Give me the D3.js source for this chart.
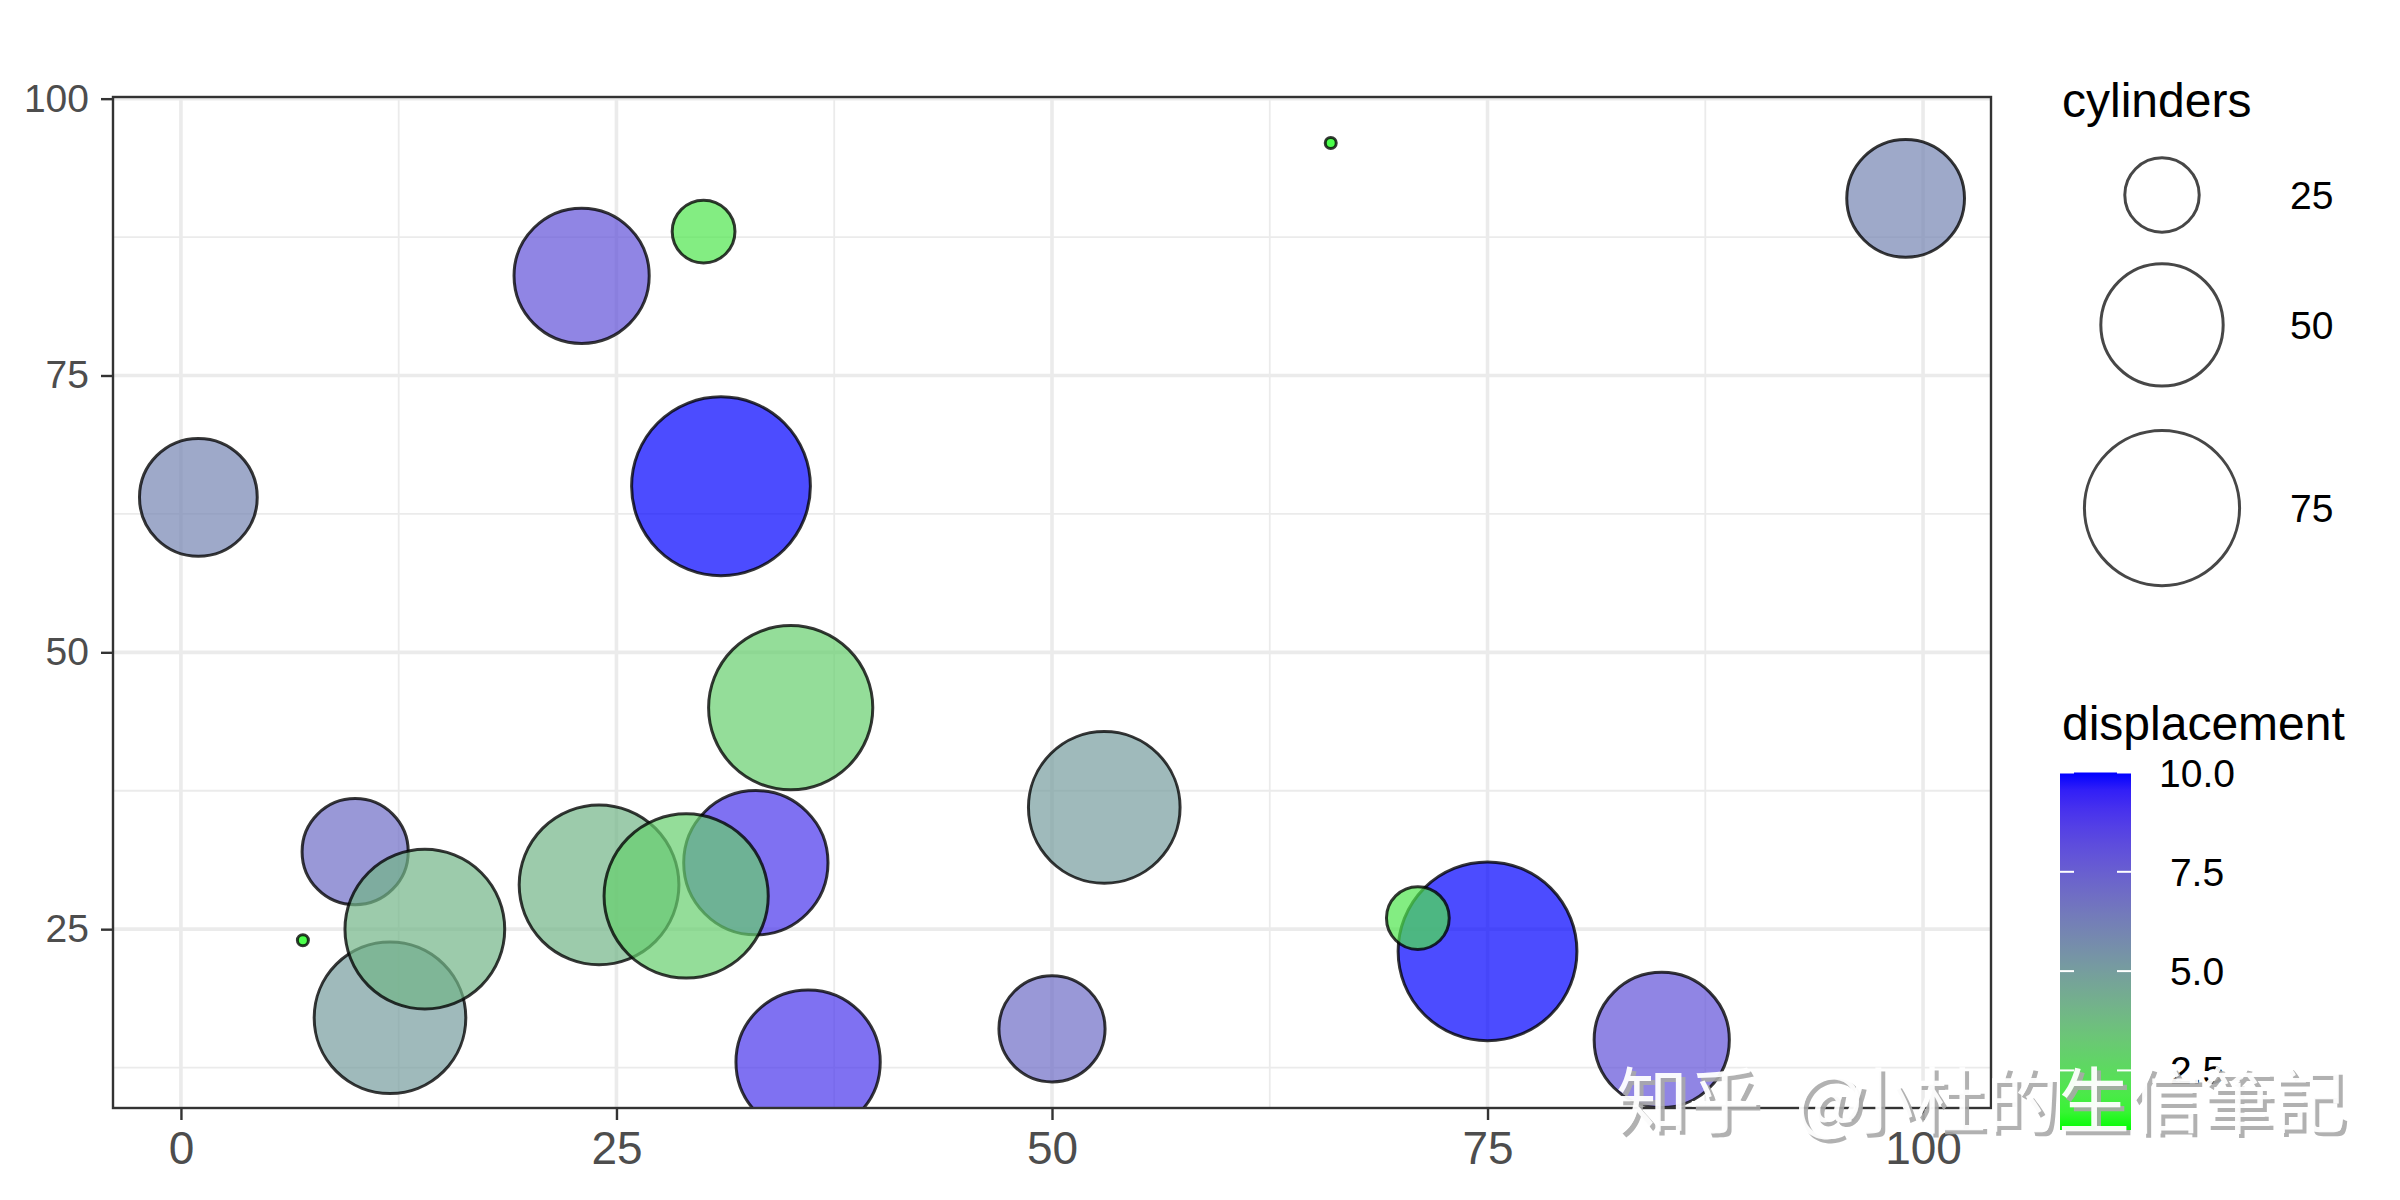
<!DOCTYPE html>
<html>
<head>
<meta charset="utf-8">
<title>Bubble chart - cylinders and displacement</title>
<script src="https://d3js.org/d3.v7.min.js"></script>
<style>
    body {
        margin: 0;
        background: #ffffff;
    }
    svg {
        display: block;
    }
    text {
        font-family: 'Liberation Sans', Arial, sans-serif;
    }
    .wm {
        font-family: 'Noto Sans CJK SC', 'Noto Sans CJK TC', sans-serif;
    }
</style>
</head>
<body>
<script>
// data
const xValues = [66, 99, 30, 23, 1, 31, 35, 53, 10, 33, 24, 75, 12, 50, 36, 85, 29, 14, 7, 71];
const yValues = [96, 91, 88, 84, 64, 65, 45, 36, 32, 31, 29, 23, 17, 16, 13, 15, 28, 25, 24, 26];
const cylinders = [13, 47, 21, 59, 47, 97, 83, 72, 40, 66, 79, 97, 72, 40, 66, 59, 83, 79, 13, 21];
const displacement = [1, 6, 2, 8, 6, 10, 3, 5, 7, 9, 4, 10, 5, 7, 9, 8, 3, 4, 1, 2];

const xMajor = [0, 25, 50, 75, 100];
const xMinor = [12.5, 37.5, 62.5, 87.5];
const yMajor = [25, 50, 75, 100];
const yMinor = [12.5, 37.5, 62.5, 87.5];
const sizeBreaks = [25, 50, 75];
const colorBreaks = [2.5, 5, 7.5, 10];

const W = 2400, H = 1200;
const panel = { left: 113, right: 1991, top: 97, bottom: 1108 };

// ggplot style 5% expansion of the data range
function expand(ext) {
    const d = ext[1] - ext[0];
    return [ext[0] - 0.05 * d, ext[1] + 0.05 * d];
}

const points = xValues.map((x, i) => ({ x, y: yValues[i], cyl: cylinders[i], disp: displacement[i] }));

const x = d3.scaleLinear().domain(expand(d3.extent(xValues))).range([panel.left, panel.right]);
const y = d3.scaleLinear().domain(expand(d3.extent(yValues))).range([panel.bottom, panel.top]);

// area palette: radius grows with sqrt of the rescaled value
const cylExt = d3.extent(cylinders);
const rLin = d3.scaleLinear().domain([0, 1]).range([5.5, 89.4]);
const radius = (v) => rLin(Math.sqrt(Math.max(0, (v - cylExt[0]) / (cylExt[1] - cylExt[0]))));

const dispExt = d3.extent(displacement);
const color = d3.scaleLinear().domain(dispExt).range(['#00ff00', '#0000ff']).interpolate(d3.interpolateLab);

const svg = d3.select('body').append('svg').attr('width', W).attr('height', H);
svg.append('rect').attr('width', W).attr('height', H).attr('fill', '#ffffff');

const defs = svg.append('defs');
defs.append('clipPath').attr('id', 'panel-clip')
    .append('rect')
    .attr('x', panel.left).attr('y', panel.top)
    .attr('width', panel.right - panel.left).attr('height', panel.bottom - panel.top);

// grid
const grid = svg.append('g');
grid.selectAll('line.minx').data(xMinor).join('line')
    .attr('x1', (d) => x(d)).attr('x2', (d) => x(d))
    .attr('y1', panel.top).attr('y2', panel.bottom)
    .attr('stroke', '#ebebeb').attr('stroke-width', 1.8);
grid.selectAll('line.miny').data(yMinor).join('line')
    .attr('y1', (d) => y(d)).attr('y2', (d) => y(d))
    .attr('x1', panel.left).attr('x2', panel.right)
    .attr('stroke', '#ebebeb').attr('stroke-width', 1.8);
grid.selectAll('line.majx').data(xMajor).join('line')
    .attr('x1', (d) => x(d)).attr('x2', (d) => x(d))
    .attr('y1', panel.top).attr('y2', panel.bottom)
    .attr('stroke', '#ebebeb').attr('stroke-width', 3.6);
grid.selectAll('line.majy').data(yMajor).join('line')
    .attr('y1', (d) => y(d)).attr('y2', (d) => y(d))
    .attr('x1', panel.left).attr('x2', panel.right)
    .attr('stroke', '#ebebeb').attr('stroke-width', 3.6);

// bubbles
svg.append('g').attr('clip-path', 'url(#panel-clip)')
    .selectAll('circle').data(points).join('circle')
    .attr('cx', (d) => x(d.x))
    .attr('cy', (d) => y(d.y))
    .attr('r', (d) => radius(d.cyl))
    .attr('fill', (d) => color(d.disp))
    .attr('fill-opacity', 0.7)
    .attr('stroke', '#000000')
    .attr('stroke-opacity', 0.78)
    .attr('stroke-width', 3);

// panel border
svg.append('rect')
    .attr('x', panel.left).attr('y', panel.top)
    .attr('width', panel.right - panel.left).attr('height', panel.bottom - panel.top)
    .attr('fill', 'none').attr('stroke', '#333333').attr('stroke-width', 2.4);

// axes
const xAxis = svg.append('g').attr('transform', `translate(0,${panel.bottom})`)
    .call(d3.axisBottom(x).tickValues(xMajor).tickSize(12).tickPadding(11).tickFormat(d3.format('d')));
const yAxis = svg.append('g').attr('transform', `translate(${panel.left},0)`)
    .call(d3.axisLeft(y).tickValues(yMajor).tickSize(12).tickPadding(12).tickFormat(d3.format('d')));
[xAxis, yAxis].forEach((g) => {
    g.select('.domain').remove();
    g.selectAll('.tick line').attr('stroke', '#333333').attr('stroke-width', 2.4);
    g.selectAll('.tick text').attr('fill', '#4d4d4d').attr('font-family', "'Liberation Sans', Arial, sans-serif");
});
xAxis.selectAll('.tick text').attr('font-size', 46);
yAxis.selectAll('.tick text').attr('font-size', 39);

// size legend: keys stacked, each key as tall as its circle plus a margin
const legX = 2062;
svg.append('text').attr('x', legX).attr('y', 117).attr('font-size', 48).attr('fill', '#000')
    .text('cylinders');
const keyH = sizeBreaks.map((b) => 2.64 * radius(b));
const keyTop = 195 - keyH[0] / 2;
const keyCy = keyH.map((h, i) => keyTop + d3.sum(keyH.slice(0, i)) + h / 2);
const sizeLeg = svg.append('g').selectAll('g').data(sizeBreaks).join('g');
sizeLeg.append('circle')
    .attr('cx', 2162).attr('cy', (d, i) => keyCy[i]).attr('r', (d) => radius(d))
    .attr('fill', '#ffffff').attr('stroke', '#000000').attr('stroke-opacity', 0.72).attr('stroke-width', 3);
sizeLeg.append('text')
    .attr('x', 2290).attr('y', (d, i) => keyCy[i]).attr('dy', '0.36em')
    .attr('font-size', 39).attr('fill', '#000').text((d) => d);

// colour bar legend
svg.append('text').attr('x', legX).attr('y', 740).attr('font-size', 48).attr('fill', '#000')
    .text('displacement');
const barX0 = 2060, barX1 = 2131;
const cy = d3.scaleLinear().domain(dispExt).range([1130, 772.5]);
const grad = defs.append('linearGradient').attr('id', 'disp-grad')
    .attr('x1', 0).attr('y1', 1).attr('x2', 0).attr('y2', 0);
d3.range(0, 1.0001, 0.05).forEach((t) => {
    grad.append('stop').attr('offset', t)
        .attr('stop-color', color(dispExt[0] + t * (dispExt[1] - dispExt[0])));
});
svg.append('rect')
    .attr('x', barX0).attr('y', cy(dispExt[1]))
    .attr('width', barX1 - barX0).attr('height', cy(dispExt[0]) - cy(dispExt[1]))
    .attr('fill', 'url(#disp-grad)');
const cbTicks = svg.append('g').selectAll('g').data(colorBreaks).join('g');
cbTicks.append('line')
    .attr('x1', barX0).attr('x2', barX0 + 14)
    .attr('y1', (d) => cy(d)).attr('y2', (d) => cy(d))
    .attr('stroke', '#ffffff').attr('stroke-width', 2);
cbTicks.append('line')
    .attr('x1', barX1 - 14).attr('x2', barX1)
    .attr('y1', (d) => cy(d)).attr('y2', (d) => cy(d))
    .attr('stroke', '#ffffff').attr('stroke-width', 2);
cbTicks.append('text')
    .attr('x', 2197).attr('y', (d) => cy(d)).attr('dy', '0.36em')
    .attr('text-anchor', 'middle').attr('font-size', 39).attr('fill', '#000')
    .text((d) => d3.format('.1f')(d));

// watermark
const wm = svg.append('g').attr('class', 'wm').attr('font-size', 72);
function wmText(g, dx, dy, fill, op) {
    const t = g.append('text').attr('class', 'wm').attr('y', 1127 + dy).attr('fill', fill).attr('fill-opacity', op);
    t.append('tspan').attr('x', 1616 + dx).text('知乎');
    t.append('tspan').attr('x', 1795 + dx).text('@');
    t.append('tspan').attr('x', 1842 + dx).text('小杜的生信筆記');
}
wmText(wm, 4, 4, '#a8a8a8', 0.9);
wmText(wm, 0, 0, '#ffffff', 0.95);
</script>
</body>
</html>
